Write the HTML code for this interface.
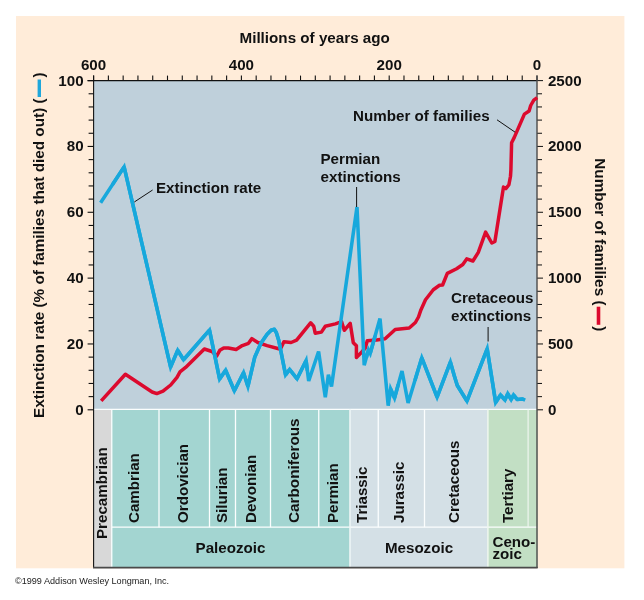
<!DOCTYPE html>
<html><head><meta charset="utf-8"><title>Extinction rate and number of families</title>
<style>
html,body{margin:0;padding:0;background:#fff;}
body{width:644px;height:600px;overflow:hidden;}
svg{display:block;}
text{font-family:"Liberation Sans",Arial,Helvetica,sans-serif;font-weight:bold;font-size:15.15px;fill:#111;}
.c{font-weight:normal;font-size:9.1px;fill:#222;}
</style></head><body>
<svg width="644" height="600" viewBox="0 0 644 600" style="will-change:transform">
<rect x="16" y="16" width="608.4" height="552.3" fill="#ffecd9"/>
<rect x="93.6" y="80.6" width="443.4" height="329.20000000000005" fill="#bfd0db"/>
<!-- timeline -->
<g id="timeline">
<rect x="94" y="409.5" width="18" height="158.5" fill="#d8d8d8"/>
<rect x="111.5" y="409.5" width="238.5" height="158.5" fill="#a3d5d1"/>
<rect x="350" y="409.5" width="137.5" height="158.5" fill="#d4e0e6"/>
<rect x="487.5" y="409.5" width="50" height="158.5" fill="#c2dfc4"/>
<g stroke="#fbfefe" stroke-width="1.3" fill="none">
<line x1="94" y1="409.4" x2="537.5" y2="409.4" stroke-width="1.4"/>
<line x1="111.75" y1="409.5" x2="111.75" y2="567.5"/>
<line x1="111.75" y1="527.2" x2="537.5" y2="527.2"/>
<line x1="159" y1="409.5" x2="159" y2="527.2"/>
<line x1="209.5" y1="409.5" x2="209.5" y2="527.2"/>
<line x1="235.5" y1="409.5" x2="235.5" y2="527.2"/>
<line x1="270.5" y1="409.5" x2="270.5" y2="527.2"/>
<line x1="318.75" y1="409.5" x2="318.75" y2="527.2"/>
<line x1="350" y1="409.5" x2="350" y2="567.5" stroke="#eef5f6" stroke-width="1.6"/>
<line x1="378.25" y1="409.5" x2="378.25" y2="527.2"/>
<line x1="424.5" y1="409.5" x2="424.5" y2="527.2"/>
<line x1="487.9" y1="409.5" x2="487.9" y2="567.5" stroke="#eef6f0" stroke-width="1.5"/>
<line x1="528.1" y1="409.5" x2="528.1" y2="527.2" stroke="#eef6ef" stroke-width="1.2"/>
</g>
</g>
<!-- axes -->
<g stroke="#111" stroke-width="1.1" fill="none">
<line x1="93.60" y1="75.6" x2="93.60" y2="80.6"/><line x1="108.38" y1="75.6" x2="108.38" y2="80.6"/><line x1="123.16" y1="75.6" x2="123.16" y2="80.6"/><line x1="137.94" y1="75.6" x2="137.94" y2="80.6"/><line x1="152.72" y1="75.6" x2="152.72" y2="80.6"/><line x1="167.50" y1="75.6" x2="167.50" y2="80.6"/><line x1="182.28" y1="75.6" x2="182.28" y2="80.6"/><line x1="197.06" y1="75.6" x2="197.06" y2="80.6"/><line x1="211.84" y1="75.6" x2="211.84" y2="80.6"/><line x1="226.62" y1="75.6" x2="226.62" y2="80.6"/><line x1="241.40" y1="75.6" x2="241.40" y2="80.6"/><line x1="256.18" y1="75.6" x2="256.18" y2="80.6"/><line x1="270.96" y1="75.6" x2="270.96" y2="80.6"/><line x1="285.74" y1="75.6" x2="285.74" y2="80.6"/><line x1="300.52" y1="75.6" x2="300.52" y2="80.6"/><line x1="315.30" y1="75.6" x2="315.30" y2="80.6"/><line x1="330.08" y1="75.6" x2="330.08" y2="80.6"/><line x1="344.86" y1="75.6" x2="344.86" y2="80.6"/><line x1="359.64" y1="75.6" x2="359.64" y2="80.6"/><line x1="374.42" y1="75.6" x2="374.42" y2="80.6"/><line x1="389.20" y1="75.6" x2="389.20" y2="80.6"/><line x1="403.98" y1="75.6" x2="403.98" y2="80.6"/><line x1="418.76" y1="75.6" x2="418.76" y2="80.6"/><line x1="433.54" y1="75.6" x2="433.54" y2="80.6"/><line x1="448.32" y1="75.6" x2="448.32" y2="80.6"/><line x1="463.10" y1="75.6" x2="463.10" y2="80.6"/><line x1="477.88" y1="75.6" x2="477.88" y2="80.6"/><line x1="492.66" y1="75.6" x2="492.66" y2="80.6"/><line x1="507.44" y1="75.6" x2="507.44" y2="80.6"/><line x1="522.22" y1="75.6" x2="522.22" y2="80.6"/><line x1="537.00" y1="75.6" x2="537.00" y2="80.6"/><line x1="87.6" y1="80.60" x2="93.6" y2="80.60"/><line x1="88.6" y1="93.77" x2="93.6" y2="93.77"/><line x1="88.6" y1="106.94" x2="93.6" y2="106.94"/><line x1="88.6" y1="120.10" x2="93.6" y2="120.10"/><line x1="88.6" y1="133.27" x2="93.6" y2="133.27"/><line x1="87.6" y1="146.44" x2="93.6" y2="146.44"/><line x1="88.6" y1="159.61" x2="93.6" y2="159.61"/><line x1="88.6" y1="172.78" x2="93.6" y2="172.78"/><line x1="88.6" y1="185.94" x2="93.6" y2="185.94"/><line x1="88.6" y1="199.11" x2="93.6" y2="199.11"/><line x1="87.6" y1="212.28" x2="93.6" y2="212.28"/><line x1="88.6" y1="225.45" x2="93.6" y2="225.45"/><line x1="88.6" y1="238.62" x2="93.6" y2="238.62"/><line x1="88.6" y1="251.78" x2="93.6" y2="251.78"/><line x1="88.6" y1="264.95" x2="93.6" y2="264.95"/><line x1="87.6" y1="278.12" x2="93.6" y2="278.12"/><line x1="88.6" y1="291.29" x2="93.6" y2="291.29"/><line x1="88.6" y1="304.46" x2="93.6" y2="304.46"/><line x1="88.6" y1="317.62" x2="93.6" y2="317.62"/><line x1="88.6" y1="330.79" x2="93.6" y2="330.79"/><line x1="87.6" y1="343.96" x2="93.6" y2="343.96"/><line x1="88.6" y1="357.13" x2="93.6" y2="357.13"/><line x1="88.6" y1="370.30" x2="93.6" y2="370.30"/><line x1="88.6" y1="383.46" x2="93.6" y2="383.46"/><line x1="88.6" y1="396.63" x2="93.6" y2="396.63"/><line x1="87.6" y1="409.80" x2="93.6" y2="409.80"/>
<line x1="87.6" y1="80.6" x2="537.0" y2="80.6"/>
<line x1="93.6" y1="75.6" x2="93.6" y2="568"/>
</g>
<g stroke="#1a1a1a" stroke-width="1.05" fill="none">
<line x1="537.0" y1="80.60" x2="543.0" y2="80.60"/><line x1="537.0" y1="93.77" x2="542.0" y2="93.77"/><line x1="537.0" y1="106.94" x2="542.0" y2="106.94"/><line x1="537.0" y1="120.10" x2="542.0" y2="120.10"/><line x1="537.0" y1="133.27" x2="542.0" y2="133.27"/><line x1="537.0" y1="146.44" x2="543.0" y2="146.44"/><line x1="537.0" y1="159.61" x2="542.0" y2="159.61"/><line x1="537.0" y1="172.78" x2="542.0" y2="172.78"/><line x1="537.0" y1="185.94" x2="542.0" y2="185.94"/><line x1="537.0" y1="199.11" x2="542.0" y2="199.11"/><line x1="537.0" y1="212.28" x2="543.0" y2="212.28"/><line x1="537.0" y1="225.45" x2="542.0" y2="225.45"/><line x1="537.0" y1="238.62" x2="542.0" y2="238.62"/><line x1="537.0" y1="251.78" x2="542.0" y2="251.78"/><line x1="537.0" y1="264.95" x2="542.0" y2="264.95"/><line x1="537.0" y1="278.12" x2="543.0" y2="278.12"/><line x1="537.0" y1="291.29" x2="542.0" y2="291.29"/><line x1="537.0" y1="304.46" x2="542.0" y2="304.46"/><line x1="537.0" y1="317.62" x2="542.0" y2="317.62"/><line x1="537.0" y1="330.79" x2="542.0" y2="330.79"/><line x1="537.0" y1="343.96" x2="543.0" y2="343.96"/><line x1="537.0" y1="357.13" x2="542.0" y2="357.13"/><line x1="537.0" y1="370.30" x2="542.0" y2="370.30"/><line x1="537.0" y1="383.46" x2="542.0" y2="383.46"/><line x1="537.0" y1="396.63" x2="542.0" y2="396.63"/><line x1="537.0" y1="409.80" x2="543.0" y2="409.80"/>
</g>
<g stroke="#4a4a4a" stroke-width="1.4" fill="none">
<line x1="537.0" y1="75.6" x2="537.0" y2="568"/>
<line x1="93.0" y1="567.7" x2="537.65" y2="567.7" stroke-width="1.8"/>
</g>
<!-- curves -->
<polyline points="101.20,400.90 125.40,374.20 152.10,392.00 156.80,393.60 163.00,391.20 170.70,385.00 177.00,377.30 180.00,371.80 185.60,367.40 204.30,349.00 212.00,351.50 216.70,356.00 219.80,350.30 223.70,348.00 228.30,348.00 236.10,349.50 242.30,345.60 248.50,343.30 251.90,338.60 257.80,342.50 267.10,345.60 278.70,348.70 280.80,348.30 283.90,341.70 291.10,342.50 296.60,340.20 310.60,322.80 313.70,326.20 315.20,333.20 321.40,332.10 325.30,326.20 335.40,323.90 341.60,321.70 344.30,330.30 350.20,323.30 353.30,342.70 356.40,345.80 356.40,357.50 361.80,352.00 365.30,348.00 367.30,340.70 376.60,340.00 385.10,338.80 395.20,329.50 409.20,328.00 415.40,322.50 418.50,317.00 420.90,309.90 425.50,299.80 433.30,289.70 439.50,285.30 442.60,285.00 447.30,273.40 456.60,268.70 462.80,264.50 466.70,258.90 472.90,261.00 478.30,252.40 485.60,232.10 491.80,243.00 494.90,241.40 503.50,187.10 505.80,188.60 508.90,184.75 510.50,176.20 510.90,170.00 511.60,142.80 514.30,137.40 524.40,114.10 529.10,111.00 530.70,105.50 533.80,100.10 537.20,97.60" fill="none" stroke="#dc0a2e" stroke-width="3.5" stroke-linejoin="round" stroke-linecap="butt"/>
<polyline points="100.60,202.80 124.11,166.85 170.59,367.07 177.70,350.26 183.55,359.72 209.48,330.06 219.60,378.98 225.63,370.26 234.35,390.80 243.53,372.74 247.92,386.36 254.70,357.30 260.90,343.30 267.10,334.30 271.20,330.20 274.30,329.30 276.30,332.50 278.70,340.20 285.57,374.80 289.63,369.49 297.05,378.81 306.08,360.55 308.70,381.00 318.60,351.50 325.30,397.20 328.40,374.70 331.50,386.50 357.00,207.10 364.20,365.20 368.48,349.88 370.23,353.33 380.00,318.60 388.20,405.70 390.61,388.88 394.53,397.97 402.00,371.00 408.10,402.90 421.80,357.83 437.08,397.14 450.37,362.03 454.20,375.40 457.30,385.50 466.93,401.04 487.17,348.79 495.64,402.40 500.51,395.01 504.97,400.04 507.72,393.66 511.12,399.59 513.52,394.94 517.10,399.40 522.50,399.00 525.20,400.20" fill="none" stroke="#17a8dc" stroke-width="3.55" stroke-linejoin="bevel" stroke-linecap="butt"/>
<polyline points="112.36,184.82 124.11,166.85 147.35,266.96" fill="none" stroke="#17a8dc" stroke-width="3.55" stroke-linejoin="miter" stroke-miterlimit="40" stroke-linecap="butt"/>
<polyline points="147.35,266.96 170.59,367.07 174.14,358.67" fill="none" stroke="#17a8dc" stroke-width="3.55" stroke-linejoin="miter" stroke-miterlimit="40" stroke-linecap="butt"/>
<polyline points="174.14,358.67 177.70,350.26 180.62,354.99" fill="none" stroke="#17a8dc" stroke-width="3.55" stroke-linejoin="miter" stroke-miterlimit="40" stroke-linecap="butt"/>
<polyline points="180.62,354.99 183.55,359.72 196.52,344.89" fill="none" stroke="#17a8dc" stroke-width="3.55" stroke-linejoin="miter" stroke-miterlimit="40" stroke-linecap="butt"/>
<polyline points="196.52,344.89 209.48,330.06 214.54,354.52" fill="none" stroke="#17a8dc" stroke-width="3.55" stroke-linejoin="miter" stroke-miterlimit="40" stroke-linecap="butt"/>
<polyline points="214.54,354.52 219.60,378.98 222.61,374.62" fill="none" stroke="#17a8dc" stroke-width="3.55" stroke-linejoin="miter" stroke-miterlimit="40" stroke-linecap="butt"/>
<polyline points="222.61,374.62 225.63,370.26 229.99,380.53" fill="none" stroke="#17a8dc" stroke-width="3.55" stroke-linejoin="miter" stroke-miterlimit="40" stroke-linecap="butt"/>
<polyline points="229.99,380.53 234.35,390.80 238.94,381.77" fill="none" stroke="#17a8dc" stroke-width="3.55" stroke-linejoin="miter" stroke-miterlimit="40" stroke-linecap="butt"/>
<polyline points="238.94,381.77 243.53,372.74 245.73,379.55" fill="none" stroke="#17a8dc" stroke-width="3.55" stroke-linejoin="miter" stroke-miterlimit="40" stroke-linecap="butt"/>
<polyline points="245.73,379.55 247.92,386.36 251.31,371.83" fill="none" stroke="#17a8dc" stroke-width="3.55" stroke-linejoin="miter" stroke-miterlimit="40" stroke-linecap="butt"/>
<polyline points="251.31,371.83 254.70,357.30 257.80,350.30" fill="none" stroke="#17a8dc" stroke-width="3.55" stroke-linejoin="miter" stroke-miterlimit="40" stroke-linecap="butt"/>
<polyline points="257.80,350.30 260.90,343.30 264.00,338.80" fill="none" stroke="#17a8dc" stroke-width="3.55" stroke-linejoin="miter" stroke-miterlimit="40" stroke-linecap="butt"/>
<polyline points="264.00,338.80 267.10,334.30 269.15,332.25" fill="none" stroke="#17a8dc" stroke-width="3.55" stroke-linejoin="miter" stroke-miterlimit="40" stroke-linecap="butt"/>
<polyline points="269.15,332.25 271.20,330.20 272.75,329.75" fill="none" stroke="#17a8dc" stroke-width="3.55" stroke-linejoin="miter" stroke-miterlimit="40" stroke-linecap="butt"/>
<polyline points="272.75,329.75 274.30,329.30 275.30,330.90" fill="none" stroke="#17a8dc" stroke-width="3.55" stroke-linejoin="miter" stroke-miterlimit="40" stroke-linecap="butt"/>
<polyline points="275.30,330.90 276.30,332.50 277.50,336.35" fill="none" stroke="#17a8dc" stroke-width="3.55" stroke-linejoin="miter" stroke-miterlimit="40" stroke-linecap="butt"/>
<polyline points="277.50,336.35 278.70,340.20 282.14,357.50" fill="none" stroke="#17a8dc" stroke-width="3.55" stroke-linejoin="miter" stroke-miterlimit="40" stroke-linecap="butt"/>
<polyline points="282.14,357.50 285.57,374.80 287.60,372.14" fill="none" stroke="#17a8dc" stroke-width="3.55" stroke-linejoin="miter" stroke-miterlimit="40" stroke-linecap="butt"/>
<polyline points="287.60,372.14 289.63,369.49 293.34,374.15" fill="none" stroke="#17a8dc" stroke-width="3.55" stroke-linejoin="miter" stroke-miterlimit="40" stroke-linecap="butt"/>
<polyline points="293.34,374.15 297.05,378.81 301.57,369.68" fill="none" stroke="#17a8dc" stroke-width="3.55" stroke-linejoin="miter" stroke-miterlimit="40" stroke-linecap="butt"/>
<polyline points="301.57,369.68 306.08,360.55 307.39,370.78" fill="none" stroke="#17a8dc" stroke-width="3.55" stroke-linejoin="miter" stroke-miterlimit="40" stroke-linecap="butt"/>
<polyline points="366.34,357.54 368.48,349.88 369.35,351.61" fill="none" stroke="#17a8dc" stroke-width="3.55" stroke-linejoin="miter" stroke-miterlimit="40" stroke-linecap="butt"/>
<polyline points="369.35,351.61 370.23,353.33 375.11,335.97" fill="none" stroke="#17a8dc" stroke-width="3.55" stroke-linejoin="miter" stroke-miterlimit="40" stroke-linecap="butt"/>
<polyline points="389.41,397.29 390.61,388.88 392.57,393.43" fill="none" stroke="#17a8dc" stroke-width="3.55" stroke-linejoin="miter" stroke-miterlimit="40" stroke-linecap="butt"/>
<polyline points="392.57,393.43 394.53,397.97 398.27,384.49" fill="none" stroke="#17a8dc" stroke-width="3.55" stroke-linejoin="miter" stroke-miterlimit="40" stroke-linecap="butt"/>
<polyline points="414.95,380.36 421.80,357.83 429.44,377.49" fill="none" stroke="#17a8dc" stroke-width="3.55" stroke-linejoin="miter" stroke-miterlimit="40" stroke-linecap="butt"/>
<polyline points="429.44,377.49 437.08,397.14 443.72,379.59" fill="none" stroke="#17a8dc" stroke-width="3.55" stroke-linejoin="miter" stroke-miterlimit="40" stroke-linecap="butt"/>
<polyline points="443.72,379.59 450.37,362.03 452.28,368.71" fill="none" stroke="#17a8dc" stroke-width="3.55" stroke-linejoin="miter" stroke-miterlimit="40" stroke-linecap="butt"/>
<polyline points="452.28,368.71 454.20,375.40 455.75,380.45" fill="none" stroke="#17a8dc" stroke-width="3.55" stroke-linejoin="miter" stroke-miterlimit="40" stroke-linecap="butt"/>
<polyline points="455.75,380.45 457.30,385.50 462.12,393.27" fill="none" stroke="#17a8dc" stroke-width="3.55" stroke-linejoin="miter" stroke-miterlimit="40" stroke-linecap="butt"/>
<polyline points="462.12,393.27 466.93,401.04 477.05,374.91" fill="none" stroke="#17a8dc" stroke-width="3.55" stroke-linejoin="miter" stroke-miterlimit="40" stroke-linecap="butt"/>
<polyline points="477.05,374.91 487.17,348.79 491.41,375.59" fill="none" stroke="#17a8dc" stroke-width="3.55" stroke-linejoin="miter" stroke-miterlimit="40" stroke-linecap="butt"/>
<polyline points="491.41,375.59 495.64,402.40 498.07,398.70" fill="none" stroke="#17a8dc" stroke-width="3.55" stroke-linejoin="miter" stroke-miterlimit="40" stroke-linecap="butt"/>
<polyline points="498.07,398.70 500.51,395.01 502.74,397.52" fill="none" stroke="#17a8dc" stroke-width="3.55" stroke-linejoin="miter" stroke-miterlimit="40" stroke-linecap="butt"/>
<polyline points="502.74,397.52 504.97,400.04 506.35,396.85" fill="none" stroke="#17a8dc" stroke-width="3.55" stroke-linejoin="miter" stroke-miterlimit="40" stroke-linecap="butt"/>
<polyline points="506.35,396.85 507.72,393.66 509.42,396.63" fill="none" stroke="#17a8dc" stroke-width="3.55" stroke-linejoin="miter" stroke-miterlimit="40" stroke-linecap="butt"/>
<polyline points="509.42,396.63 511.12,399.59 512.32,397.26" fill="none" stroke="#17a8dc" stroke-width="3.55" stroke-linejoin="miter" stroke-miterlimit="40" stroke-linecap="butt"/>
<polyline points="512.32,397.26 513.52,394.94 515.31,397.17" fill="none" stroke="#17a8dc" stroke-width="3.55" stroke-linejoin="miter" stroke-miterlimit="40" stroke-linecap="butt"/>
<polyline points="515.31,397.17 517.10,399.40 519.80,399.20" fill="none" stroke="#17a8dc" stroke-width="3.55" stroke-linejoin="miter" stroke-miterlimit="40" stroke-linecap="butt"/>
<polyline points="519.80,399.20 522.50,399.00 523.85,399.60" fill="none" stroke="#17a8dc" stroke-width="3.55" stroke-linejoin="miter" stroke-miterlimit="40" stroke-linecap="butt"/>
<!-- pointers -->
<g stroke="#111" stroke-width="1" fill="none">
<line x1="134.3" y1="202" x2="152.6" y2="190"/>
<line x1="356.6" y1="187" x2="356.6" y2="207"/>
<line x1="497" y1="119.8" x2="515.1" y2="132.2"/>
<line x1="488.1" y1="327" x2="488.1" y2="341.5"/>
</g>
<!-- labels -->
<text x="239.5" y="42.6" textLength="150.4" lengthAdjust="spacingAndGlyphs">Millions of years ago</text>
<text x="93.60" y="69.5" text-anchor="middle">600</text><text x="241.40" y="69.5" text-anchor="middle">400</text><text x="389.20" y="69.5" text-anchor="middle">200</text><text x="537.00" y="69.5" text-anchor="middle">0</text>
<text x="83.6" y="85.60" text-anchor="end">100</text><text x="83.6" y="151.44" text-anchor="end">80</text><text x="83.6" y="217.28" text-anchor="end">60</text><text x="83.6" y="283.12" text-anchor="end">40</text><text x="83.6" y="348.96" text-anchor="end">20</text><text x="83.6" y="414.80" text-anchor="end">0</text>
<text x="547.9" y="85.60">2500</text><text x="547.9" y="151.44">2000</text><text x="547.9" y="217.28">1500</text><text x="547.9" y="283.12">1000</text><text x="547.9" y="348.96">500</text><text x="547.9" y="414.80">0</text>
<text x="156" y="192.9">Extinction rate</text>
<text x="320.5" y="164.3">Permian</text>
<text x="320.5" y="182.1" textLength="80.2" lengthAdjust="spacingAndGlyphs">extinctions</text>
<text x="353" y="121" textLength="136.6" lengthAdjust="spacingAndGlyphs">Number of families</text>
<text x="451" y="303.4">Cretaceous</text>
<text x="451" y="321.1" textLength="80.2" lengthAdjust="spacingAndGlyphs">extinctions</text>
<text transform="translate(44,418) rotate(-90)" textLength="319.6" lengthAdjust="spacingAndGlyphs">Extinction rate (% of families that died out) (</text>
<text transform="translate(44,77.6) rotate(-90)">)</text>
<line x1="39.3" y1="79.5" x2="39.3" y2="97" stroke="#1fa7db" stroke-width="3.4"/>
<text transform="translate(594.8,158.3) rotate(90)" textLength="147.2" lengthAdjust="spacingAndGlyphs">Number of families (</text>
<text transform="translate(594.8,326.3) rotate(90)">)</text>
<line x1="598.5" y1="306.7" x2="598.5" y2="324.8" stroke="#dc0a2e" stroke-width="3.6"/>
<!-- period labels -->
<text transform="translate(107.2,539) rotate(-90)">Precambrian</text>
<text transform="translate(139.2,523) rotate(-90)">Cambrian</text>
<text transform="translate(187.8,523) rotate(-90)">Ordovician</text>
<text transform="translate(226.5,523) rotate(-90)">Silurian</text>
<text transform="translate(256.2,523) rotate(-90)">Devonian</text>
<text transform="translate(298.5,523) rotate(-90)" textLength="104.6" lengthAdjust="spacingAndGlyphs">Carboniferous</text>
<text transform="translate(337.5,523) rotate(-90)">Permian</text>
<text transform="translate(367.3,523) rotate(-90)">Triassic</text>
<text transform="translate(404.2,523) rotate(-90)">Jurassic</text>
<text transform="translate(458.6,523) rotate(-90)">Cretaceous</text>
<text transform="translate(513,523) rotate(-90)">Tertiary</text>
<text x="230.5" y="553.25" text-anchor="middle">Paleozoic</text>
<text x="419" y="553.25" text-anchor="middle">Mesozoic</text>
<text x="492.5" y="547">Ceno-</text>
<text x="492.5" y="558.75">zoic</text>
<text class="c" x="15" y="583.5">©1999 Addison Wesley Longman, Inc.</text>
</svg>
</body></html>
